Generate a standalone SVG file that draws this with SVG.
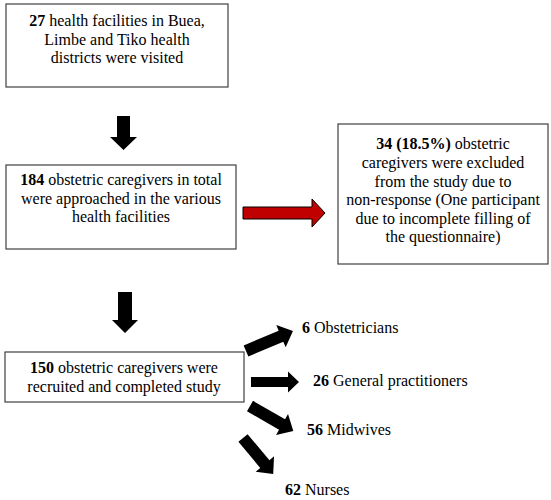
<svg xmlns="http://www.w3.org/2000/svg" width="551" height="500" viewBox="0 0 551 500">
<style>
.box{fill:#fff;stroke:#404040;stroke-width:1.2}
text{font-family:"Liberation Serif","Times New Roman",serif;font-size:16px;fill:#000}
.c{text-anchor:middle}
.b{font-weight:bold}
.arr{fill:#000}
.red{fill:#c00000;stroke:#000;stroke-width:1}
</style>
<rect width="551" height="500" fill="#fff"/>
<g id="n1">
<rect class="box" x="6" y="4" width="222" height="83"/>
<text class="c" x="117" y="26"><tspan class="b">27</tspan> health facilities in Buea,</text>
<text class="c" x="117" y="45">Limbe and Tiko health</text>
<text class="c" x="117" y="63">districts were visited</text>
</g>
<g id="n2">
<rect class="box" x="6" y="165" width="230" height="84"/>
<text class="c" x="121" y="185"><tspan class="b">184</tspan> obstetric caregivers in total</text>
<text class="c" x="121" y="204">were approached in the various</text>
<text class="c" x="121" y="222">health facilities</text>
</g>
<g id="n3">
<rect class="box" x="338" y="124" width="210" height="140"/>
<text class="c" x="443" y="149"><tspan class="b">34 (18.5%)</tspan> obstetric</text>
<text class="c" x="443" y="168">caregivers were excluded</text>
<text class="c" x="443" y="187">from the study due to</text>
<text class="c" x="443" y="205">non-response (One participant</text>
<text class="c" x="443" y="224">due to incomplete filling of</text>
<text class="c" x="443" y="242">the questionnaire)</text>
</g>
<g id="n4">
<rect class="box" x="5" y="352" width="239" height="50"/>
<text class="c" x="124" y="373"><tspan class="b">150</tspan> obstetric caregivers were</text>
<text class="c" x="124" y="392">recruited and completed study</text>
</g>
<g id="n5"><text x="302" y="333"><tspan class="b">6</tspan> Obstetricians</text></g>
<g id="n6"><text x="313" y="386"><tspan class="b">26</tspan> General practitioners</text></g>
<g id="n7"><text x="307" y="435"><tspan class="b">56</tspan> Midwives</text></g>
<g id="n8"><text x="285" y="495"><tspan class="b">62</tspan> Nurses</text></g>
<g id="connectors">
<polygon class="arr" points="117,116 130,116 130,137 137,137 123.5,150 110,137 117,137"/>
<polygon class="red" points="243,207 312,207 312,199 325,213 312,227 312,219 243,219"/>
<polygon class="arr" points="118,292 132,292 132,320 138,320 125,333 112,320 118,320"/>
<g transform="translate(246,351) rotate(-23)"><polygon class="arr" points="0,-6 38,-6 38,-12 51,0 38,12 38,6 0,6"/></g>
<polygon class="arr" points="251,377 288,377 288,371.5 299,382 288,392.5 288,387 251,387"/>
<g transform="translate(250,406) rotate(30)"><polygon class="arr" points="0,-6 37,-6 37,-12 50,0 37,12 37,6 0,6"/></g>
<g transform="translate(243,438) rotate(50)"><polygon class="arr" points="0,-6 34,-6 34,-12 47,0 34,12 34,6 0,6"/></g>
</g>
</svg>
